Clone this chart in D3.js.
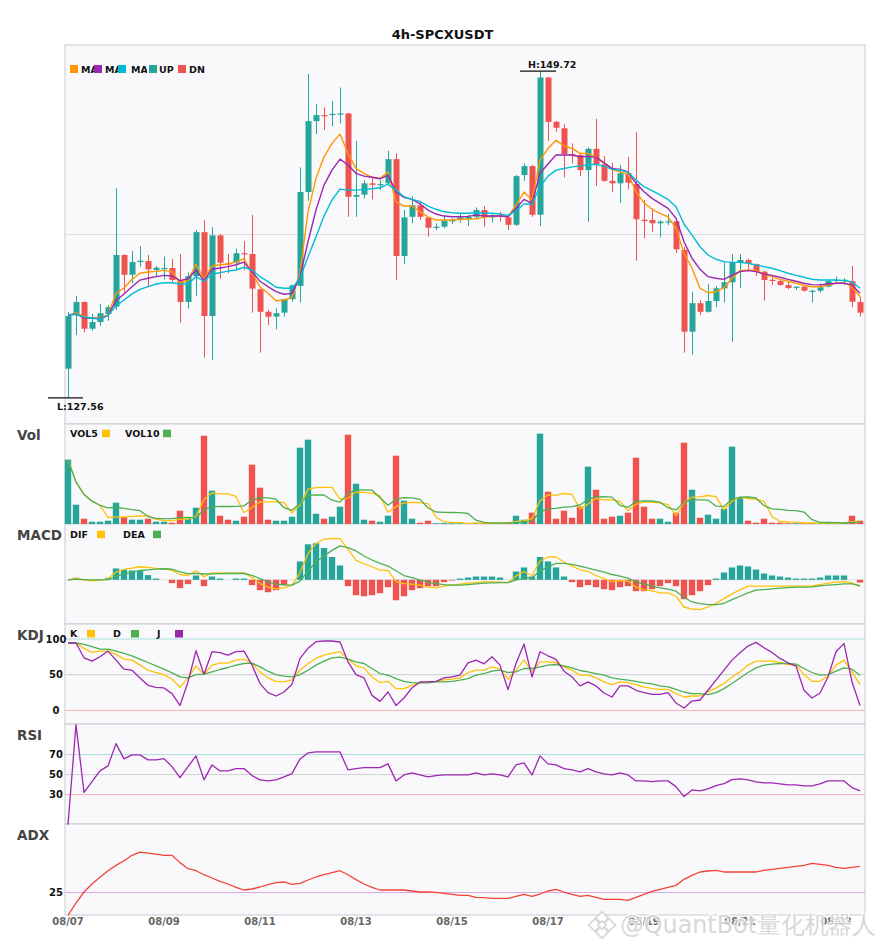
<!DOCTYPE html>
<html>
<head>
<meta charset="utf-8">
<script src="https://cdn.jsdelivr.net/npm/d3@7"></script>
<style>
body { margin: 0; background: #fff; }
text { font-family: "DejaVu Sans", sans-serif; }
</style>
</head>
<body>
<script>
// 4h candles, 08/07 .. 08/23
let open = [129.54,133.16,134.06,132.25,132.70,133.25,133.75,137.25,135.91,136.77,
  136.84,136.23,136.33,136.37,135.55,134.06,135.82,138.80,133.11,138.58,
  136.69,136.73,137.37,137.32,134.93,133.40,133.07,133.34,134.25,135.15,
  141.52,146.33,146.74,146.74,146.78,146.85,141.20,141.34,142.11,142.01,
  142.11,143.75,137.18,139.84,140.62,139.80,139.10,139.17,139.53,139.62,
  139.67,139.84,140.30,139.80,139.96,139.80,139.30,142.67,143.28,139.98,
  149.29,146.28,145.84,144.09,144.03,143.01,144.45,143.40,142.28,142.11,
  142.79,142.06,139.64,139.62,139.40,139.47,139.53,137.59,132.05,133.98,
  133.40,134.13,134.99,135.40,136.75,136.91,136.64,136.12,135.57,135.48,
  135.21,135.03,135.10,134.76,134.83,135.10,135.50,135.50,135.48,134.06];
let high = [133.40,134.47,134.10,133.25,133.93,133.86,141.77,137.30,137.52,137.85,
  137.25,136.50,137.14,136.98,137.32,136.05,138.94,139.62,139.14,138.67,
  137.32,137.68,138.19,139.96,134.97,133.52,133.64,134.28,135.24,143.19,
  149.52,147.48,147.26,147.69,148.61,146.89,144.99,142.33,142.45,142.33,
  144.32,144.14,140.30,141.25,140.86,139.82,139.40,139.96,139.74,140.03,
  139.96,140.48,140.57,140.12,140.18,139.96,142.67,143.46,143.35,149.72,
  149.33,146.35,146.13,144.82,144.18,144.55,146.49,143.96,143.50,143.35,
  143.91,145.58,140.98,140.41,139.62,140.03,139.62,137.81,134.76,134.20,
  135.28,135.15,136.75,137.32,137.32,137.00,136.66,136.19,135.73,135.55,
  135.44,135.12,135.15,134.88,135.33,135.55,135.78,135.67,136.50,134.42];
let low = [127.56,131.83,131.99,132.12,132.43,132.79,133.52,134.70,135.33,136.46,
  135.06,135.78,135.60,135.43,132.66,133.61,134.47,130.29,130.13,135.64,
  136.01,136.23,136.23,133.34,130.63,132.50,132.21,133.07,134.08,134.02,
  140.93,145.45,145.72,145.99,146.17,139.84,139.84,141.09,141.02,141.65,
  142.06,135.55,136.64,139.40,139.62,138.49,138.94,139.06,139.35,139.44,
  139.21,139.67,139.17,139.47,139.51,138.94,139.21,142.28,139.84,139.21,
  144.99,145.61,142.51,143.46,142.60,139.51,141.92,142.22,141.54,140.79,
  141.70,136.86,138.38,138.83,138.45,139.28,137.37,130.63,130.49,133.18,
  133.34,133.71,134.02,131.37,135.03,136.28,135.82,134.15,135.21,135.19,
  134.92,134.88,134.76,134.02,134.70,135.06,135.33,135.21,133.71,133.07];
let close = [133.11,134.06,132.25,132.70,133.30,133.71,137.25,135.91,136.77,136.86,
  136.28,136.39,136.37,135.55,134.06,135.82,138.80,133.11,138.58,136.73,
  136.62,137.37,137.30,134.97,133.40,133.07,133.30,134.25,135.19,141.52,
  146.33,146.74,146.69,146.82,146.85,141.20,141.32,142.11,142.01,142.06,
  143.75,137.18,139.80,140.62,139.84,139.10,139.17,139.57,139.62,139.80,
  139.84,140.30,139.84,139.96,139.84,139.30,142.60,143.28,139.98,149.29,
  146.28,145.88,144.09,144.01,143.01,144.45,143.40,142.28,142.11,142.79,
  142.15,139.67,139.55,139.40,139.51,139.53,137.64,132.05,133.98,133.40,
  134.13,134.99,135.40,136.75,136.91,136.69,136.12,135.55,135.50,135.21,
  135.01,135.10,134.83,134.83,135.06,135.48,135.57,135.57,134.08,133.34];
let ma5 = [133.16,133.34,133.07,132.98,132.98,133.18,134.65,135.01,135.60,136.01,
  136.10,136.14,136.21,136.12,135.37,135.51,136.64,135.60,136.50,136.59,
  136.64,136.77,137.00,136.01,135.10,134.65,134.15,134.20,134.38,136.01,
  140.18,142.45,143.91,144.82,145.45,144.14,143.12,142.79,142.52,142.45,
  142.87,140.86,140.57,140.57,140.18,139.84,139.62,139.62,139.62,139.67,
  139.69,139.71,139.80,139.89,139.89,139.84,140.64,141.52,140.98,143.69,
  144.48,145.04,144.64,144.48,144.14,144.13,143.91,143.50,143.06,142.89,
  142.74,141.54,140.79,140.35,140.08,139.84,139.06,137.36,136.35,134.99,
  134.69,134.76,135.03,135.67,136.19,136.23,136.19,135.96,135.78,135.60,
  135.47,135.33,135.20,135.10,135.10,135.20,135.33,135.37,135.10,134.42];
let ma10 = [133.16,133.25,132.98,132.98,132.93,133.16,134.15,134.61,135.10,135.55,
  135.67,135.78,135.87,135.83,135.51,135.64,136.23,135.51,136.28,136.37,
  136.46,136.59,136.77,136.10,135.47,135.10,134.76,134.59,134.65,135.78,
  138.15,140.30,141.99,143.01,143.75,143.35,142.79,142.60,142.52,142.42,
  142.67,141.54,141.16,141.02,140.71,140.30,140.03,139.89,139.84,139.84,
  139.87,139.96,139.89,139.89,139.89,139.84,140.41,141.02,140.75,142.79,
  143.42,144.03,144.03,144.03,143.91,143.94,143.87,143.50,143.12,143.06,
  142.89,142.11,141.54,141.09,140.75,140.41,139.74,138.15,137.03,136.28,
  135.78,135.67,135.60,135.89,136.12,136.19,136.12,135.96,135.87,135.74,
  135.60,135.47,135.33,135.24,135.22,135.28,135.33,135.33,135.22,134.65];
let ma20 = [133.16,133.25,133.03,132.98,132.89,133.16,133.79,134.20,134.61,134.92,
  135.10,135.28,135.37,135.37,135.28,135.28,135.78,135.47,135.96,136.05,
  136.16,136.23,136.42,136.23,135.78,135.44,135.06,134.99,134.99,135.67,
  137.13,138.49,139.89,140.98,141.72,141.65,141.65,141.70,141.74,141.81,
  142.06,141.65,141.20,141.02,140.89,140.57,140.35,140.18,140.12,140.08,
  140.08,140.12,140.08,140.08,140.03,139.94,140.25,140.71,140.71,141.88,
  142.60,143.01,143.12,143.23,143.28,143.38,143.40,143.28,143.06,143.01,
  142.87,142.33,141.88,141.61,141.32,141.02,140.52,139.35,138.60,137.81,
  137.25,136.96,136.80,136.75,136.75,136.69,136.57,136.46,136.35,136.19,
  136.01,135.87,135.74,135.60,135.55,135.55,135.55,135.51,135.42,134.99];
let volume = [64.3,19.3,5.3,2.3,2.3,3.3,21.3,6.7,4.3,4.3,
  5.3,2.3,2.3,1.3,13.3,5,16.3,88.3,33.3,8.3,
  4.3,3.3,7.3,59.3,36.3,4.3,3.3,3.3,7.3,76.3,
  84.3,10.3,5.3,7.3,17.3,89.3,40.3,4.3,3.3,2.3,
  8.3,68.3,23.3,5.3,1.3,3.3,0.7,1,0.7,0.7,
  0.3,1.3,1,0.7,0.7,1.7,8.3,4.3,11.3,90.3,
  32.3,5.3,13.3,6.3,17.3,57.3,34.3,5.3,7.3,8.3,
  11.3,66.3,17.3,5.3,5.3,2.3,11.3,81.3,34.3,6.3,
  9.3,5.3,15.3,77.3,26.3,3.3,1.3,5.3,1.3,1.3,
  0.7,0.7,1,1.3,1,1,0.7,1,8.3,3.3];
let vol5 = [64.3,41.8,29.6,22.8,18.7,6.5,6.9,7.2,7.6,8.0,
  8.4,4.6,3.7,3.1,4.9,4.8,7.6,24.8,31.2,30.2,
  30.1,27.5,11.3,16.5,22.1,22.1,22.1,21.3,10.9,18.9,
  34.9,36.3,36.7,36.7,24.9,25.9,31.9,31.7,30.9,27.9,
  11.7,17.3,21.1,21.5,21.3,20.3,6.8,2.3,1.4,1.3,
  0.7,0.8,0.8,0.8,0.8,1.1,2.5,3.1,5.3,23.2,
  29.3,28.7,30.5,29.5,14.9,19.9,25.7,24.1,24.3,22.5,
  13.3,19.7,22.1,21.7,21.1,19.3,8.3,21.1,26.9,27.1,
  28.5,27.3,14.1,22.7,26.7,25.5,24.7,22.7,7.5,2.5,
  2.0,1.9,1.0,1.0,0.9,1.0,1.0,1.0,2.4,2.9];
let vol10 = [64.3,41.8,29.6,22.8,18.7,16.1,16.9,15.6,14.3,13.3,
  7.4,5.7,5.4,5.3,6.4,6.6,6.1,14.3,17.2,17.6,
  17.5,17.6,18.1,23.9,26.2,26.1,24.8,16.3,13.7,20.5,
  28.5,29.2,29.0,23.8,21.9,30.4,34.1,34.2,33.8,26.4,
  18.8,24.6,26.4,26.2,24.6,16.0,12.0,11.7,11.5,11.3,
  10.5,3.8,1.6,1.1,1.0,0.9,1.6,2.0,3.0,12.0,
  15.2,15.6,16.8,17.4,19.0,24.6,27.2,27.3,26.9,18.7,
  16.6,22.7,23.1,23.0,21.8,16.3,14.0,21.6,24.3,24.1,
  23.9,17.8,17.6,24.8,26.9,27.0,26.0,18.4,15.1,14.6,
  13.7,13.3,11.9,4.3,1.7,1.5,1.4,1.0,1.7,1.9];
let dif = [0,0.17,0,-0.1,-0.03,0.1,0.77,1.03,1.17,1.3,
  1.23,1.13,1.1,0.93,0.53,0.43,0.9,0.3,0.7,0.7,
  0.67,0.67,0.7,0.23,-0.37,-0.73,-0.9,-0.8,-0.53,0.7,
  2.6,3.63,4.03,4.13,4.1,3.03,1.93,1.6,1.3,0.97,
  0.93,-0.17,-0.37,-0.43,-0.53,-0.73,-0.8,-0.63,-0.53,-0.43,
  -0.33,-0.27,-0.2,-0.2,-0.23,-0.27,0.37,0.83,0.43,1.87,
  2.27,2.27,1.77,1.37,1.0,0.83,0.43,0.13,-0.17,-0.07,
  -0.13,-0.73,-1.0,-1.1,-1.3,-1.3,-1.63,-2.7,-2.9,-2.97,
  -2.7,-2.33,-1.87,-1.4,-1.0,-0.63,-0.63,-0.63,-0.63,-0.63,
  -0.63,-0.63,-0.63,-0.6,-0.47,-0.33,-0.23,-0.17,-0.3,-0.67];
let dea = [0,0.07,0.03,0,0,0.03,0.35,0.6,0.75,0.93,
  1.0,1.07,1.1,1.05,0.8,0.62,0.65,0.58,0.6,0.62,
  0.63,0.63,0.63,0.45,0.12,-0.2,-0.42,-0.5,-0.53,-0.13,
  0.87,1.77,2.37,2.93,3.37,3.2,2.87,2.37,1.97,1.63,
  1.37,0.9,0.43,0.23,-0.03,-0.23,-0.37,-0.47,-0.53,-0.53,
  -0.47,-0.4,-0.33,-0.3,-0.27,-0.27,-0.03,0.2,0.23,0.87,
  1.3,1.63,1.63,1.53,1.37,1.17,0.97,0.77,0.53,0.37,
  0.17,-0.2,-0.43,-0.63,-0.8,-0.93,-1.13,-1.73,-2.2,-2.37,
  -2.47,-2.47,-2.33,-1.97,-1.63,-1.3,-1.03,-0.97,-0.9,-0.83,
  -0.77,-0.73,-0.73,-0.7,-0.6,-0.53,-0.47,-0.4,-0.4,-0.57];
let macdHist = [0,0.2,0,0,0,0.2,1.13,1.0,0.93,0.87,
  0.47,0.13,0,-0.33,-0.83,-0.43,0.43,-0.63,0.33,0.13,
  0,0.13,0.13,-0.53,-1.03,-1.23,-1.03,-0.53,0,1.83,
  3.53,3.63,3.17,2.27,1.43,-0.63,-1.53,-1.63,-1.53,-1.33,
  -0.73,-2.03,-1.63,-1.03,-0.83,-0.63,-0.63,-0.23,-0.07,0.13,
  0.23,0.33,0.33,0.33,0.23,0,0.83,1.23,0.33,2.27,
  1.83,1.23,0.33,-0.23,-0.73,-0.53,-0.73,-0.93,-1.03,-0.73,
  -0.63,-1.13,-1.13,-0.93,-0.63,-0.33,-0.63,-1.93,-1.53,-1.13,
  -0.53,0.13,0.73,1.23,1.43,1.33,1.03,0.63,0.43,0.33,
  0.23,0.13,0.13,0.13,0.23,0.43,0.43,0.43,0,-0.27];
let kLine = [94.4,94.4,86.9,81.2,83.1,83.1,78.4,71.8,70.4,63.4,
  56.3,53.1,50.2,43.7,32.4,45.5,62.4,50.7,63.4,66.2,
  66.2,70.4,71.8,65.7,54.0,45.5,40.8,39.9,42.7,56.3,
  65.7,72.8,77.5,79.8,82.2,71.8,62.4,59.6,46.9,39.0,
  40.8,30.5,30.5,35.2,39.0,39.9,40.8,42.7,43.7,45.5,
  53.1,56.3,56.3,61.0,57.7,43.7,56.3,70.4,54.0,68.1,
  68.1,67.1,61.0,56.3,49.3,49.3,45.5,39.9,36.2,39.9,
  39.0,36.2,32.9,30.5,29.6,29.6,23.5,18.8,20.2,20.2,
  25.8,31.5,37.6,46.9,54.0,63.4,69.0,69.0,69.0,67.1,
  64.3,63.4,50.2,40.8,40.8,48.4,63.4,70.4,54.0,36.2];
let dLine = [94.4,94.4,92.5,89.2,85.9,85.9,83.1,79.8,76.5,71.8,
  67.1,62.4,57.7,52.6,46.9,45.5,50.2,50.7,54.0,57.3,
  60.1,63.4,65.7,66.2,61.0,54.9,50.2,47.9,46.9,50.2,
  56.3,63.4,69.0,73.7,74.6,71.8,68.1,65.7,58.7,51.6,
  49.3,44.6,40.8,39.0,38.5,38.5,39.9,39.9,40.8,42.3,
  44.6,49.3,51.6,54.9,56.3,53.1,54.0,58.7,58.7,61.0,
  63.4,64.3,62.4,59.6,55.9,54.0,51.6,49.3,45.5,43.7,
  42.3,40.8,38.5,37.1,34.3,32.9,29.6,25.8,23.5,23.5,
  22.1,24.9,30.5,37.6,45.5,53.1,59.6,63.4,64.8,65.7,
  65.7,64.8,58.7,53.1,49.3,50.2,54.9,59.6,57.7,49.3];
let jLine = [94.4,94.4,73.7,69.0,75.1,83.1,70.4,57.7,56.3,45.5,
  35.2,32.4,31.5,23.5,7.0,39.9,83.6,50.7,82.2,80.8,
  77.5,82.2,83.1,63.4,37.6,24.9,20.2,25.8,36.6,72.8,
  86.9,96.2,97.2,97.2,95.8,68.1,50.2,45.5,21.1,12.7,
  25.8,7.0,17.4,31.5,39.9,39.9,40.8,45.5,46.9,49.3,
  66.7,70.4,65.3,75.1,63.4,29.1,65.7,93.0,46.9,82.2,
  76.5,71.4,54.9,46.9,34.3,39.9,34.3,24.4,18.8,34.3,
  34.3,28.2,24.9,22.5,22.5,24.9,10.3,3.3,13.1,14.6,
  28.2,42.3,56.3,70.4,80.8,90.1,95.3,87.8,81.2,72.8,
  66.7,62.0,28.2,17.4,24.4,46.9,82.2,93.9,39.9,7.0];
let rsi = [0,100,32.3,43,53.7,58.7,81,65.7,69.7,69.7,
  64.7,64.7,66,58,47,58,68.7,44.7,59.7,53.7,
  53.7,56,56,49,44.7,43.7,44.7,47.7,51,65.7,
  71.7,72.7,72.7,72.7,72.7,54.7,56,57,57,57,
  60.7,43.7,49.7,51.7,49.7,47.7,49,49.7,49.7,49.7,
  49.7,51.7,49.7,50.7,49.7,47.7,59.7,61.7,49.7,68.7,
  60.7,59.7,56,54.7,52.7,56,52.7,50.7,49.7,51.7,
  49.7,43.7,43.7,43,43.7,43.7,38,28,34.7,33.7,
  35.7,39,41,45,45.7,44.7,42.7,41.7,41.7,40.7,
  39.7,39.7,38.7,38.7,40.7,43.7,43.7,43.7,37,33.7];
let adx = [0,13.5,25.6,34.4,41.7,49.0,54.9,60.0,65.9,69.5,
  68.4,67.3,65.9,65.9,57.9,51.2,49.0,44.6,41.0,37.3,
  34.4,30.7,27.8,28.9,31.1,33.7,35.9,36.6,34.0,35.1,
  38.8,42.1,44.6,46.8,49.0,44.6,39.2,34.4,30.7,27.8,
  27.8,27.8,27.8,26.7,25.6,25.6,25.2,24.1,23.0,21.9,
  21.9,19.7,19.4,18.6,18.6,18.6,20.8,23.0,20.8,23.4,
  26.7,28.5,25.6,23.0,20.8,21.9,19.7,17.5,17.5,17.5,
  16.4,19.7,23.0,26.3,28.5,30.7,32.9,39.5,43.9,47.6,
  48.7,49.4,47.6,47.6,47.6,47.6,47.6,49.4,50.5,51.6,
  52.7,53.8,54.9,57.1,56.0,54.9,52.7,51.6,52.7,53.8];
let tickLabels = ['08/07','08/09','08/11','08/13','08/15','08/17','08/19','08/21','08/23'];
let candlesPerTick = 12;
let kdjTicks = [0, 50, 100];
let rsiTicks = [30, 50, 70];
let adxTicks = [25];

let up = '#26a69a', dn = '#ef5350';
let cOrange = '#ff9800', cPurple = '#9c27b0', cCyan = '#00bcd4';
let cYellow = '#ffc107', cGreen = '#4caf50';

let svg = d3.select('body').append('svg').attr('width', 885).attr('height', 950);

let n = close.length;
let x = d3.scaleBand().domain(d3.range(n)).range([64, 864]).paddingInner(0.2).paddingOuter(0.1);
function cx(i) { return x(i) + x.bandwidth() / 2; }

// panel boxes [top, bottom]
let panels = [[45, 424], [424, 524], [524, 624], [624, 724], [724, 824], [824, 915]];

function AddRect(sel, w, h, px, py, f) {
    return sel.append('rect').attr('x', px).attr('y', py).attr('width', w).attr('height', h).attr('fill', f);
}
function AddLine(sel, x1, y1, x2, y2, c, w = 1) {
    return sel.append('line').attr('x1', x1).attr('y1', y1).attr('x2', x2).attr('y2', y2)
        .attr('stroke', c).attr('stroke-width', w);
}
function AddText(sel, px, py, t, size, fill = '#111', anchor = 'start') {
    return sel.append('text').attr('x', px).attr('y', py).attr('font-size', size)
        .attr('font-weight', 'bold').attr('fill', fill).attr('text-anchor', anchor).text(t);
}
function DrawSeries(vals, ys, color, w = 1.4) {
    svg.append('path').datum(vals)
        .attr('fill', 'none').attr('stroke', color).attr('stroke-width', w).attr('stroke-linejoin', 'round')
        .attr('d', d3.line().x((d, i) => cx(i)).y(d => ys(d)));
}

panels.forEach(p => {
    AddRect(svg, 800, p[1] - p[0], 65, p[0], '#f9f9fb').attr('stroke', '#c9c9d2').attr('stroke-width', 1);
});

AddText(svg, 442.5, 39, '4h-SPCXUSDT', 13, '#111', 'middle');

// ---- main price panel
let lo = d3.min(low), hi = d3.max(high), pad = (hi - lo) * 0.08;
let yMain = d3.scaleLinear().domain([lo - pad, hi + pad]).range([424, 45]);
let mid = (lo + hi) / 2;
AddLine(svg, 65, yMain(mid), 865, yMain(mid), '#dcdcdc');

for (let i = 0; i < n; i++) {
    let col = close[i] >= open[i] ? up : dn;
    AddLine(svg, cx(i) + 0.5, yMain(high[i]), cx(i) + 0.5, yMain(low[i]), col, 1);
    let yt = yMain(Math.max(open[i], close[i])), yb = yMain(Math.min(open[i], close[i]));
    AddRect(svg, 6, Math.max(1.2, yb - yt), cx(i) - 2.5, yt, col);
}
DrawSeries(ma5, yMain, cOrange);
DrawSeries(ma10, yMain, cPurple);
DrawSeries(ma20, yMain, cCyan);

let iHi = d3.maxIndex(high), iLo = d3.minIndex(low);
AddLine(svg, cx(iHi) - 20, yMain(high[iHi]), cx(iHi) + 16, yMain(high[iHi]), '#111', 1.3);
AddText(svg, cx(iHi) - 12, yMain(high[iHi]) - 3, 'H:' + high[iHi].toFixed(2), 9.5);
AddLine(svg, cx(iLo) - 20, yMain(low[iLo]), cx(iLo) + 15, yMain(low[iLo]), '#111', 1.3);
AddText(svg, cx(iLo) - 11, yMain(low[iLo]) + 12.5, 'L:' + low[iLo].toFixed(2), 9.5);

// main legend: the MA labels only show "MA" in the original, the rest sits under the next swatch
let legMain = [['MA5', cOrange, 70, 11], ['MA10', cPurple, 94, 11], ['MA20', cCyan, 118, 13], ['UP', up, 149, 10], ['DN', dn, 178, 11]];
let defs = svg.append('defs');
legMain.forEach((d, k) => {
    let tx = d[2] + d[3];
    let lbl = AddText(svg, tx, 72.5, d[0], 9.5);
    if (d[0].startsWith('MA')) {
        defs.append('clipPath').attr('id', 'lg' + k).append('rect')
            .attr('x', tx - 1).attr('y', 55).attr('width', 17).attr('height', 25);
        lbl.attr('clip-path', 'url(#lg' + k + ')');
    }
});
legMain.forEach(d => AddRect(svg, 8, 8, d[2], 65, d[1]));

// ---- volume
let yVol = d3.scaleLinear().domain([0, d3.max(volume) * 1.107]).range([524, 424]);
for (let i = 0; i < n; i++) {
    AddRect(svg, x.bandwidth(), 524 - yVol(volume[i]), x(i), yVol(volume[i]), close[i] >= open[i] ? up : dn);
}
DrawSeries(vol5, yVol, cYellow, 1.3);
DrawSeries(vol10, yVol, cGreen, 1.3);

// ---- MACD
let mAll = dif.concat(dea, macdHist);
let mLo = d3.min(mAll), mHi = d3.max(mAll), mPad = (mHi - mLo) * 0.2;
let yMacd = d3.scaleLinear().domain([mLo - mPad, mHi + mPad]).range([624, 524]);
AddLine(svg, 65, yMacd(0), 865, yMacd(0), '#dcdcdc');
for (let i = 0; i < n; i++) {
    let v = macdHist[i];
    if (v === 0) continue;
    AddRect(svg, x.bandwidth(), Math.abs(yMacd(v) - yMacd(0)), x(i), Math.min(yMacd(v), yMacd(0)), v > 0 ? up : dn);
}
DrawSeries(dif, yMacd, cYellow, 1.3);
DrawSeries(dea, yMacd, cGreen, 1.3);

// ---- KDJ, RSI, ADX
let yKdj = d3.scaleLinear().domain([-19, 121]).range([724, 624]);
let yRsi = d3.scaleLinear().domain([0, 100]).range([824.6, 724.6]);
let yAdx = d3.scaleLinear().domain([0, 100]).range([915.3, 824.3]);
let refCol = ['#f4b3b3', '#cfcfd4', '#a9dcd9'];
kdjTicks.forEach((t, k) => AddLine(svg, 65, yKdj(t), 865, yKdj(t), refCol[k]));
rsiTicks.forEach((t, k) => AddLine(svg, 65, yRsi(t), 865, yRsi(t), refCol[k]));
adxTicks.forEach(t => AddLine(svg, 65, yAdx(t), 865, yAdx(t), '#dda6e3'));

DrawSeries(kLine, yKdj, cYellow, 1.3);
DrawSeries(dLine, yKdj, cGreen, 1.3);
DrawSeries(jLine, yKdj, cPurple, 1.3);
DrawSeries(rsi, yRsi, cPurple, 1.3);
DrawSeries(adx, yAdx, '#f44336', 1.3);

function SideAxis(ys, ticks) {
    svg.append('g').attr('transform', 'translate(65,0)')
        .call(d3.axisLeft(ys).tickValues(ticks).tickSize(0).tickFormat(d3.format('d')))
        .call(g => g.select('.domain').remove())
        .call(g => g.selectAll('text').attr('x', -9).attr('text-anchor', 'middle')
            .attr('font-family', 'DejaVu Sans').attr('font-size', 10).attr('font-weight', 'bold').attr('fill', '#111'));
}
SideAxis(yKdj, kdjTicks);
SideAxis(yRsi, rsiTicks);
SideAxis(yAdx, adxTicks);

// ---- sub panel legends
let subLeg = [
    [436.7, [['VOL5', 70, 102, cYellow], ['VOL10', 125, 163, cGreen]]],
    [537.7, [['DIF', 70, 97, cYellow], ['DEA', 123, 153, cGreen]]],
    [637, [['K', 70, 87, cYellow], ['D', 113, 131, cGreen], ['J', 157, 175, cPurple]]]
];
subLeg.forEach(r => r[1].forEach(d => {
    AddText(svg, d[1], r[0], d[0], 9.5);
    AddRect(svg, 8, 7.5, d[2], r[0] - 7, d[3]);
}));

// ---- left panel titles
[['Vol', 440], ['MACD', 539.5], ['KDJ', 640], ['RSI', 739.5], ['ADX', 839.5]].forEach(d => {
    AddText(svg, 17, d[1], d[0], 13.5, '#444');
});

// ---- x axis
let xAxis = d3.axisBottom(x)
    .tickValues(tickLabels.map((t, k) => k * candlesPerTick))
    .tickSize(0)
    .tickFormat(i => tickLabels[i / candlesPerTick]);
svg.append('g').attr('transform', 'translate(0,915)').call(xAxis)
    .call(g => g.select('.domain').remove())
    .call(g => g.selectAll('text').attr('dy', 0).attr('y', 10)
        .attr('font-family', 'DejaVu Sans').attr('font-size', 10).attr('font-weight', 'bold').attr('fill', '#666'));

// ---- watermark
let wm = svg.append('g').attr('opacity', 0.85);
[[602, 918], [595, 925], [609, 925], [602, 932], [602, 925]].forEach((p, k) => {
    let s = k === 4 ? 3 : 4.5;
    wm.append('rect').attr('x', p[0] - s).attr('y', p[1] - s).attr('width', 2 * s).attr('height', 2 * s)
        .attr('transform', 'rotate(45,' + p[0] + ',' + p[1] + ')')
        .attr('fill', '#fff').attr('stroke', '#cfcfcf').attr('stroke-width', 1.6);
});
wm.append('text').attr('x', 620).attr('y', 933).attr('font-size', 24)
    .attr('font-family', '"Noto Sans CJK SC", "DejaVu Sans", sans-serif')
    .attr('textLength', 256).attr('lengthAdjust', 'spacingAndGlyphs')
    .attr('fill', '#d2d2d2').attr('stroke', '#fff').attr('stroke-width', 2.5)
    .attr('paint-order', 'stroke').text('@QuantBot量化机器人');
</script>
</body>
</html>
